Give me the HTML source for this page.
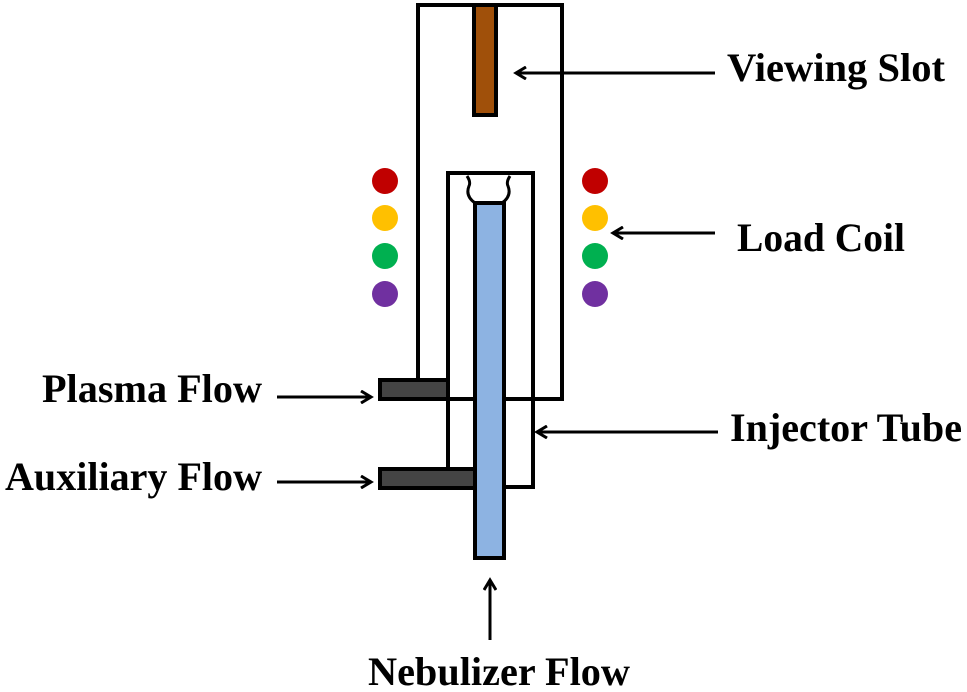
<!DOCTYPE html>
<html><head><style>html,body{margin:0;padding:0;background:#fff}svg{display:block}</style></head><body>
<svg width="967" height="692" viewBox="0 0 967 692" xmlns="http://www.w3.org/2000/svg">
<defs><marker id="a" markerWidth="14" markerHeight="14" refX="11" refY="7" orient="auto" markerUnits="userSpaceOnUse"><path d="M1,1 L11,7 L1,13" fill="none" stroke="#000" stroke-width="3"/></marker></defs>
<g stroke="#000" stroke-width="4" fill="none">
<rect x="418" y="5" width="144" height="394"/>
<rect x="474" y="5" width="22" height="110" fill="#a0500a"/>
<rect x="448" y="173" width="85" height="314"/>
<rect x="380" y="380" width="68" height="19" fill="#444"/>
<rect x="380" y="469" width="95" height="19" fill="#444"/>
<rect x="475" y="203" width="29" height="355" fill="#8db3e2"/>
<path d="M467,176 q4,6 2,10 q-4,10 6,17 M510,176 q-4,6 -2,10 q4,10 -6,17" stroke-width="3"/>
</g>
<g>
<circle cx="385" cy="181" r="13" fill="#c00000"/><circle cx="385" cy="218" r="13" fill="#ffc000"/><circle cx="385" cy="256" r="13" fill="#00b050"/><circle cx="385" cy="294" r="13" fill="#7030a0"/>
<circle cx="595" cy="181" r="13" fill="#c00000"/><circle cx="595" cy="218" r="13" fill="#ffc000"/><circle cx="595" cy="256" r="13" fill="#00b050"/><circle cx="595" cy="294" r="13" fill="#7030a0"/>
</g>
<g stroke="#000" stroke-width="3" marker-end="url(#a)">
<line x1="715" y1="73" x2="516" y2="73"/>
<line x1="715" y1="233" x2="613" y2="233"/>
<line x1="277" y1="397" x2="371" y2="397"/>
<line x1="718" y1="432" x2="537" y2="432"/>
<line x1="277" y1="482" x2="371" y2="482"/>
<line x1="490" y1="640" x2="490" y2="580"/>
</g>
<g font-family="Liberation Serif, serif" font-weight="bold" font-size="40" fill="#000">
<text x="727" y="81" textLength="218" lengthAdjust="spacingAndGlyphs">Viewing Slot</text>
<text x="737" y="251" textLength="168" lengthAdjust="spacingAndGlyphs">Load Coil</text>
<text x="42" y="402" textLength="220" lengthAdjust="spacingAndGlyphs">Plasma Flow</text>
<text x="730" y="441" textLength="232" lengthAdjust="spacingAndGlyphs">Injector Tube</text>
<text x="5" y="490" textLength="257" lengthAdjust="spacingAndGlyphs">Auxiliary Flow</text>
<text x="368" y="685" textLength="262" lengthAdjust="spacingAndGlyphs">Nebulizer Flow</text>
</g>
</svg>
</body></html>
